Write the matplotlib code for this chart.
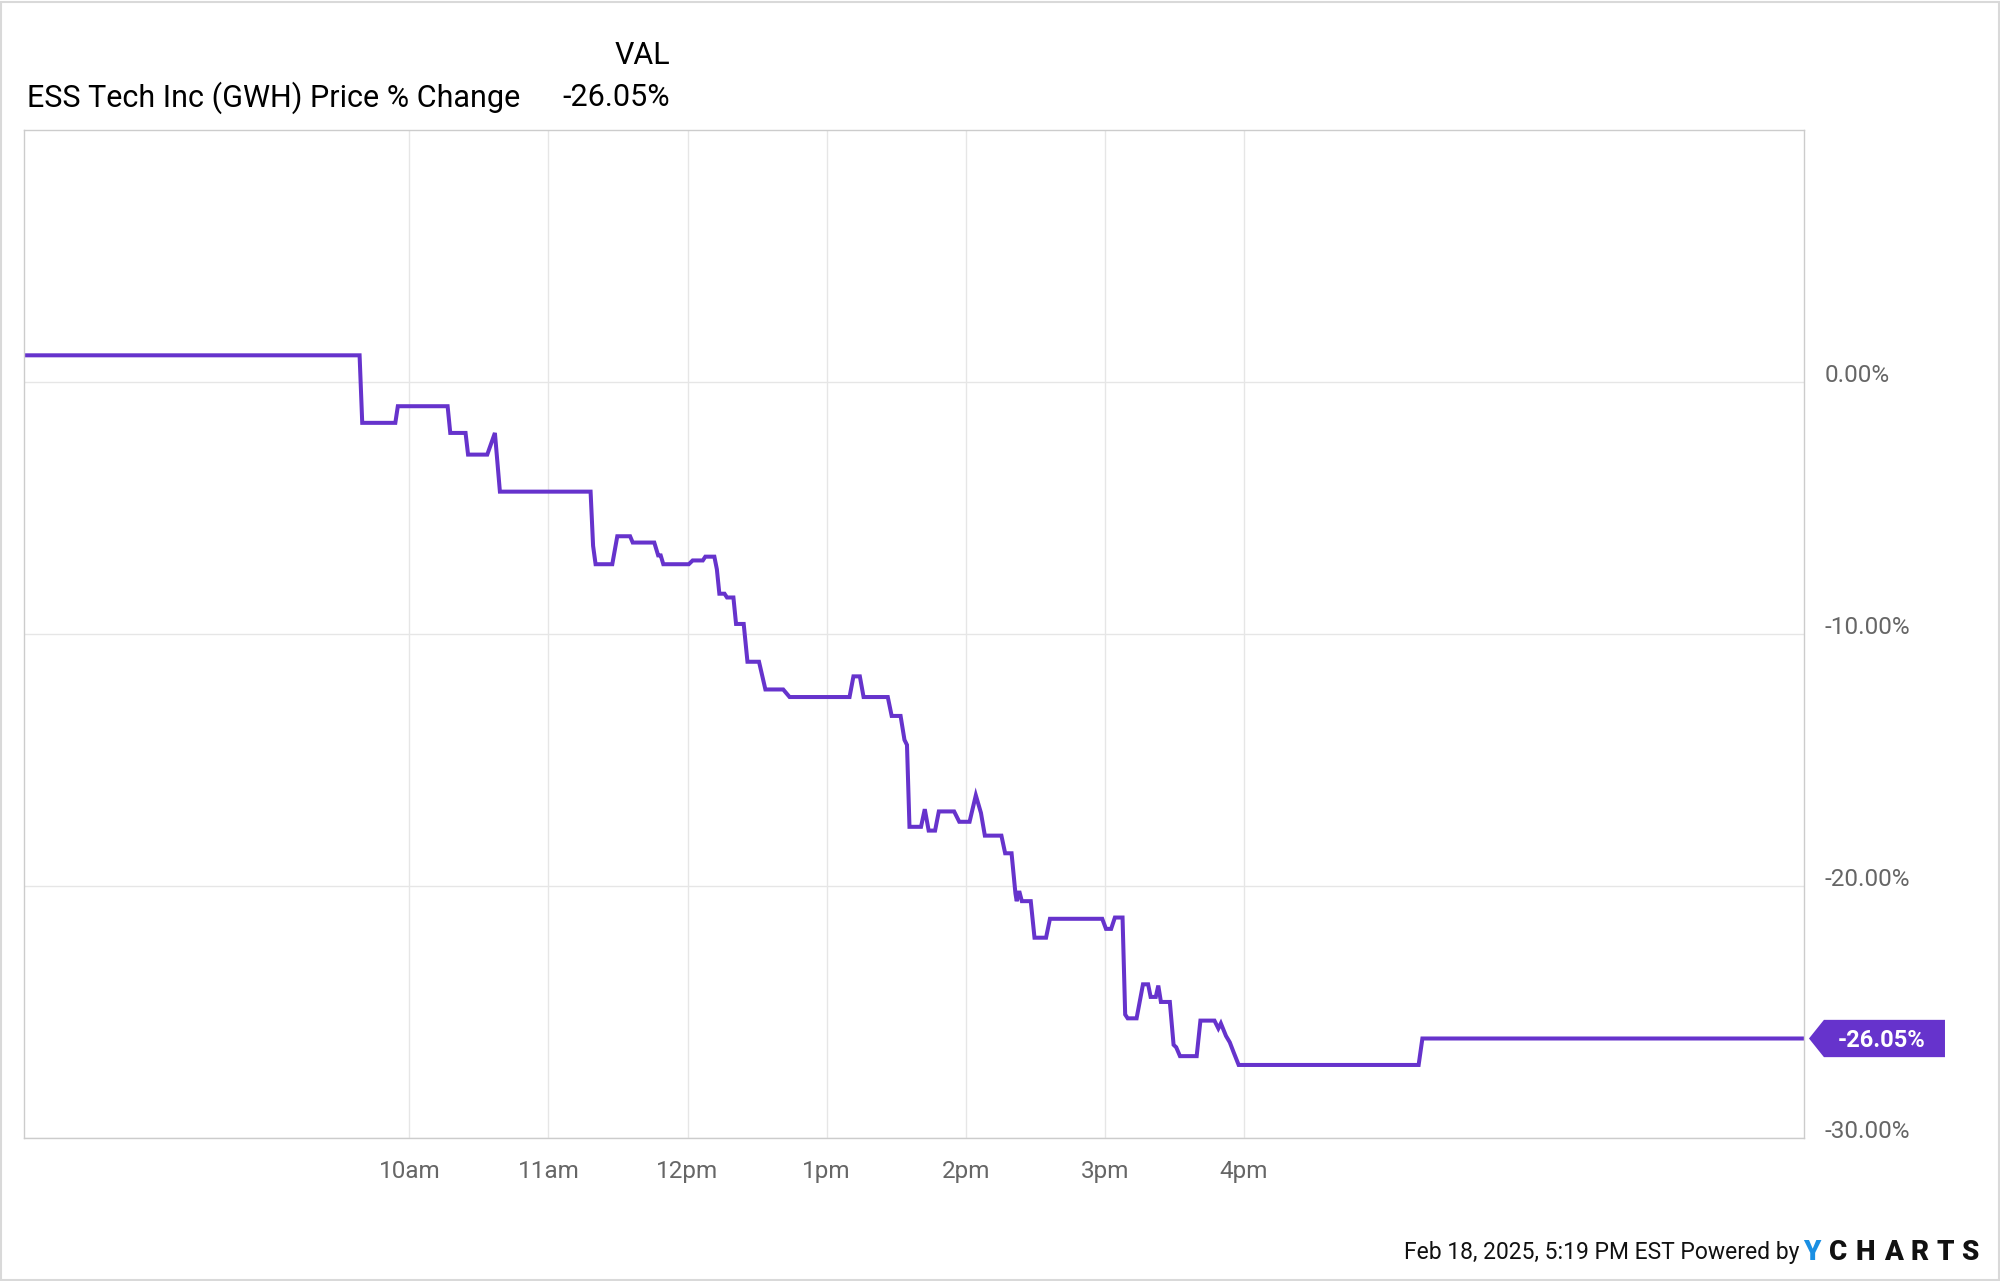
import matplotlib.pyplot as plt
import matplotlib.transforms as mtransforms
from matplotlib.patches import Polygon, Rectangle

plt.rcParams['font.family'] = ['Roboto', 'DejaVu Sans']

# intraday % change, time in decimal hours (ET)
hours = [7.229, 9.642, 9.661, 9.899, 9.917, 10.275, 10.294, 10.404, 10.422, 10.560,
         10.615, 10.651, 11.303, 11.321, 11.339, 11.459, 11.495, 11.587, 11.606, 11.761,
         11.789, 11.807, 11.826, 12.009, 12.037, 12.110, 12.128, 12.193, 12.211, 12.229,
         12.266, 12.284, 12.330, 12.349, 12.404, 12.431, 12.514, 12.560, 12.688, 12.734,
         13.165, 13.193, 13.239, 13.266, 13.440, 13.468, 13.532, 13.560, 13.578, 13.596,
         13.679, 13.706, 13.734, 13.780, 13.807, 13.917, 13.954, 14.028, 14.073, 14.110,
         14.138, 14.257, 14.284, 14.330, 14.358, 14.367, 14.385, 14.404, 14.468, 14.495,
         14.578, 14.606, 14.982, 15.009, 15.046, 15.073, 15.128, 15.147, 15.165, 15.229,
         15.275, 15.312, 15.330, 15.367, 15.385, 15.404, 15.468, 15.495, 15.514, 15.541,
         15.661, 15.688, 15.789, 15.817, 15.835, 15.872, 15.899, 15.927, 15.963, 17.257,
         17.284, 20.028]
pct = [1.06, 1.06, -1.62, -1.62, -0.96, -0.96, -2.02, -2.02, -2.88, -2.88,
       -2.02, -4.35, -4.35, -6.5, -7.23, -7.23, -6.12, -6.12, -6.37, -6.37,
       -6.88, -6.88, -7.23, -7.23, -7.08, -7.08, -6.93, -6.93, -7.43, -8.4,
       -8.4, -8.55, -8.55, -9.6, -9.6, -11.1, -11.1, -12.2, -12.2, -12.5,
       -12.5, -11.68, -11.68, -12.5, -12.5, -13.25, -13.25, -14.2, -14.4, -17.65,
       -17.65, -16.95, -17.8, -17.8, -17.04, -17.04, -17.45, -17.45, -16.4, -17.1,
       -18.0, -18.0, -18.7, -18.7, -20.3, -20.6, -20.2, -20.6, -20.6, -22.05,
       -22.05, -21.3, -21.3, -21.7, -21.7, -21.25, -21.25, -25.1, -25.25, -25.25,
       -23.9, -23.9, -24.4, -24.4, -23.95, -24.6, -24.6, -26.3, -26.4, -26.75,
       -26.75, -25.34, -25.34, -25.65, -25.45, -25.95, -26.2, -26.6, -27.1, -27.1,
       -26.05, -26.05]

last_val = -26.05
xtick_pos = [10, 11, 12, 13, 14, 15, 16]
xtick_labels = ['10am', '11am', '12pm', '1pm', '2pm', '3pm', '4pm']
ytick_pos = [0, -10, -20, -30]

purple = '#6633cc'
gray_txt = '#666666'

fig = plt.figure(figsize=(20, 12.81), dpi=100)
ax = fig.add_axes([0.012, 0.1116, 0.890, 0.7869])

ax.plot(hours, pct, color=purple, lw=2.9, solid_joinstyle='miter')
ax.set_xlim(7.229, 20.028)
ax.set_ylim(-30, 10)

ax.set_xticks(xtick_pos)
ax.set_xticklabels(xtick_labels)
ax.set_yticks(ytick_pos)
ax.set_yticklabels([f'{v:.2f}%' for v in ytick_pos])
ax.yaxis.tick_right()
ax.tick_params(axis='both', length=0, labelsize=17.5, labelcolor=gray_txt)
ax.tick_params(axis='x', pad=16)
ax.tick_params(axis='y', pad=15)
for lab in ax.get_yticklabels():
    lab.set_verticalalignment('baseline')

ax.grid(True, color='#e6e6e6', lw=1)
ax.set_axisbelow(True)
for s in ax.spines.values():
    s.set_color('#cccccc')
    s.set_linewidth(1)

# end value badge on the right edge
trans = mtransforms.blended_transform_factory(ax.transAxes, ax.transData)
h = 0.74
badge = Polygon([(1.0028, last_val), (1.0112, last_val + h), (1.0792, last_val + h),
                 (1.0792, last_val - h), (1.0112, last_val - h)],
                closed=True, transform=trans, clip_on=False,
                facecolor=purple, edgecolor='none')
ax.add_patch(badge)
ax.text(1.0435, last_val, '-26.05%', transform=trans, color='white',
        fontsize=17, fontweight='bold', ha='center', va='center_baseline')

# header
fig.text(0.335, 0.9594, 'VAL', fontsize=22, ha='right', va='center_baseline')
fig.text(0.0135, 0.9266, 'ESS Tech Inc (GWH) Price % Change', fontsize=22,
         ha='left', va='center_baseline')
fig.text(0.335, 0.9266, '-26.05%', fontsize=22, ha='right', va='center_baseline')

# footer
fig.text(0.8995, 0.0245, 'Feb 18, 2025, 5:19 PM EST Powered by', fontsize=16.5,
         ha='right', va='center_baseline', color='#111111')
logo_x = [0.906, 0.919, 0.9325, 0.9465, 0.96, 0.9725, 0.985]
for i, (ch, lx) in enumerate(zip('YCHARTS', logo_x)):
    fig.text(lx, 0.0245, ch, fontsize=20, fontweight='heavy',
             color='#1a8fe3' if i == 0 else '#111111',
             ha='center', va='center_baseline')

# outer frame
fig.patches.append(Rectangle((0.0005, 0.0008), 0.999, 0.998, transform=fig.transFigure,
                             fill=False, edgecolor='#d9d9d9', lw=1.5))

fig.savefig('out.png', dpi=100)
